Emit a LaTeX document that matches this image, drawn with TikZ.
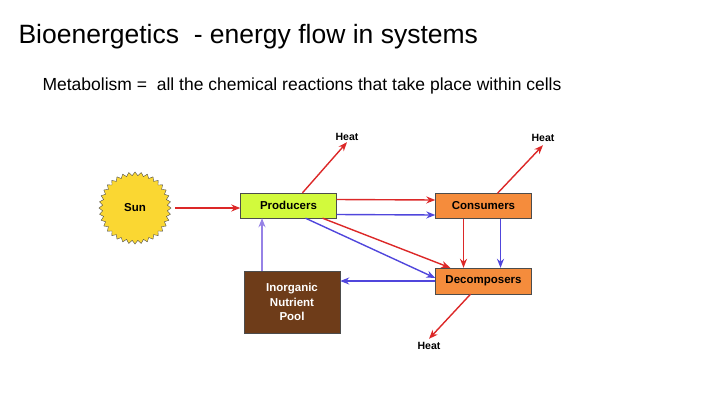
\documentclass[tikz,border=0pt]{standalone}
\usepackage{fontspec}
\setmainfont{Liberation Sans}
\usetikzlibrary{arrows.meta}
\definecolor{cr}{RGB}{220,40,40}
\definecolor{cb}{RGB}{80,70,220}
\definecolor{cl}{RGB}{150,130,230}
\definecolor{sunc}{RGB}{250,215,50}
\definecolor{prodc}{RGB}{210,250,60}
\definecolor{orc}{RGB}{245,140,60}
\definecolor{brc}{RGB}{110,60,25}
\begin{document}
\begin{tikzpicture}[x=1pt,y=-1pt,
  box/.style={draw=black!70,minimum width=96pt,minimum height=25pt,font=\bfseries\fontsize{11.5}{13}\selectfont,inner sep=1pt},
  r/.style={draw=cr,line width=1.4pt,-{Stealth[length=9pt,width=7pt]}},
  b/.style={draw=cb,line width=1.4pt,-{Stealth[length=9pt,width=7pt]}},
  lbl/.style={font=\bfseries\fontsize{10.5}{12}\selectfont}]
\useasboundingbox (0,0) rectangle (720,405);
\node[anchor=west,font=\fontsize{26.5}{30}\selectfont] at (15,37) {Bioenergetics \ - energy flow in systems};
\node[anchor=west,font=\fontsize{17.5}{20}\selectfont] at (39,86) {Metabolism = \ all the chemical reactions that take place within cells};
% sun
\fill[sunc,draw=black!70,line width=0.4pt,shift={(135,208)}]
  (0:36) \foreach \i in {1,...,71} {-- ({\i*5}:{ifthenelse(mod(\i,2)==0,36,32.5)})} -- cycle;
\node[font=\bfseries\fontsize{11.5}{13}\selectfont] (sun) at (135,208) {Sun};
\node[box,fill=prodc] (prod) at (288.5,205.5) {Producers};
\node[box,fill=orc] (cons) at (483.5,206) {Consumers};
\node[box,fill=orc,minimum height=26pt] (dec) at (483.5,281) {Decomposers};
\node[box,fill=brc,text=white,minimum height=62pt,align=center,font=\bfseries\fontsize{11.5}{14.5}\selectfont] (pool) at (292,302) {Inorganic\\Nutrient\\Pool};
\node[lbl] (h1) at (347,137) {Heat};
\node[lbl] (h2) at (543,138) {Heat};
\node[lbl] (h3) at (429,346) {Heat};
\coordinate (s1) at (175,208);
\draw[r] (s1) -- (prod.west |- s1);
\draw[r] ([xshift=14pt]prod.north) -- ([yshift=2pt]h1.south);
\draw[r] ([xshift=14pt]cons.north) -- (h2.south);
\draw[r] ([xshift=-13pt]dec.south) -- (h3.north);
\draw[r] ([yshift=6pt]prod.east) -- ([yshift=6pt]cons.west);
\draw[b] ([yshift=-9pt]prod.east) -- ([yshift=-9pt]cons.west);
\draw[r] ([xshift=34pt]prod.south) -- ([xshift=15pt]dec.north west);
\draw[b] ([xshift=17pt]prod.south) -- ([yshift=3pt]dec.west);
\draw[r] ([xshift=-20pt]cons.south) -- ([xshift=-20pt]dec.north);
\draw[b] ([xshift=17pt]cons.south) -- ([xshift=17pt]dec.north);
\draw[b] (dec.west) -- (pool.east |- dec.west);
\draw[b,draw=cl] ([xshift=-30pt]pool.north) -- ([xshift=-26.5pt]prod.south);
\end{tikzpicture}
\end{document}
